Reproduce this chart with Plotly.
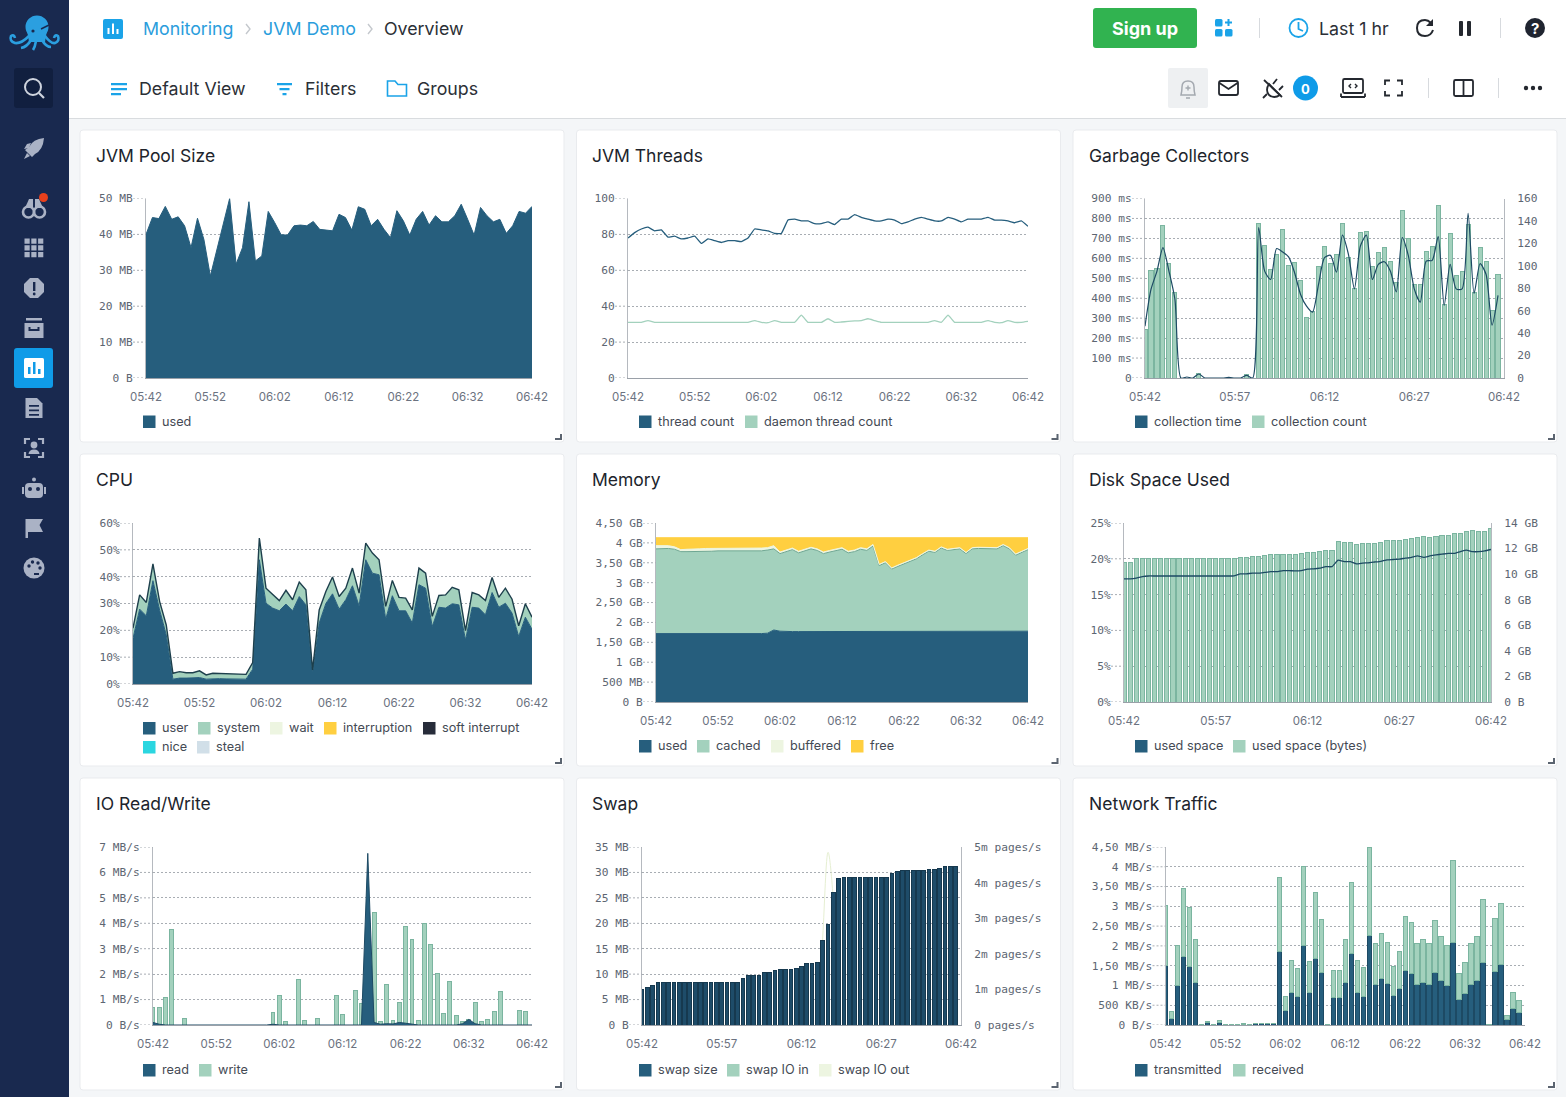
import plotly.graph_objects as go
import numpy as np

W, H = 1566, 1097

minutes = list(range(61))

# JVM Pool Size
pool_used = [40, 44.7, 44.4, 47.8, 44.2, 44.9, 42.4, 36.3, 44.5, 38.6,
             28.4, 35.8, 43.3, 50, 31.7, 36.3, 49.1, 32.6, 34, 46.4,
             43.3, 39.9, 39.8, 42.4, 42.6, 42.4, 43.6, 41.4, 41.2, 41,
             45.6, 44.7, 41.2, 47.7, 47, 42.4, 44.2, 41.4, 39.1, 46.6,
             43.8, 39.8, 44.2, 46.4, 42.6, 45.2, 43.5, 43.5, 45.2, 48.4,
             44.2, 39.8, 47.5, 45.2, 43.5, 44.2, 40.3, 42.4, 46.4, 45.9, 47.8]

# JVM Threads
thread_count = [78, 81, 83, 84, 82, 82.5, 78.5, 79, 77.5, 78,
                79, 75, 77.5, 76.5, 75.5, 76.5, 76.5, 76, 78, 83,
                82.5, 82, 80.5, 80.5, 88, 88.5, 87.5, 87.5, 86, 86,
                87, 85.5, 88.5, 88.5, 91, 89.5, 88.5, 87.5, 87.5, 88.5,
                88, 86, 87, 88.5, 89.5, 88.5, 87.5, 87.5, 89.5, 88.5,
                87, 88.5, 88.5, 88.5, 89.5, 88, 88, 87.5, 86.5, 87.5, 84.5]
daemon_count = [31, 31, 31, 32, 31, 31, 31, 31, 31, 31,
                31, 31, 31, 31, 31, 31, 31, 31, 31, 32,
                31, 30.8, 32, 31, 31, 31, 35, 31, 31, 31,
                33, 31, 31.2, 31.5, 31.8, 32, 33, 32, 31, 31,
                31, 31, 31, 31, 31, 31, 32, 31, 35, 31,
                31, 31, 31, 31, 32, 31, 30.8, 32, 31, 31, 31.5]

# Garbage Collectors
gc_time = [260, 444, 536, 654, 536, 394, 0, 5, 0, 20,
           0, 0, 0, 0, 3, 0, 0, 13, 0, 754,
           536, 494, 649, 632, 607, 528, 419, 360, 330, 469,
           603, 615, 531, 716, 620, 447, 662, 716, 494, 570,
           583, 536, 432, 704, 615, 447, 380, 586, 590, 709,
           364, 570, 447, 447, 826, 424, 573, 520, 265, 414]
gc_count = [43, 96, 98, 135.6, 102, 76, 0, 0, 0, 4,
            0, 0, 0, 0, 0, 0, 0, 3, 0, 137.7,
            118, 97, 110, 132, 100, 103, 87, 53.6, 59, 99,
            117, 102, 110, 137.7, 107, 80, 130, 130.5, 99, 112,
            116, 104, 85, 149, 124, 83, 83, 113, 117, 154,
            65.5, 129, 91, 95, 137, 76, 116, 104, 60, 92]

# CPU
cpu_user = [17, 27.9, 25.4, 38.5, 27.6, 18.3, 1.8, 2.2, 2.2, 2.2,
            2.4, 1.8, 2, 2, 1.9, 1.9, 1.9, 1.8, 5.5, 46.3,
            30.1, 28.3, 27.3, 29.8, 27.3, 32.6, 29.5, 4, 22.7, 30,
            33.6, 27.9, 31.4, 36.6, 29.1, 46.3, 41.3, 40.7, 24.2, 32.9,
            27.3, 27.3, 22.7, 37, 35.7, 21.4, 28.6, 28.3, 29.9, 29.5,
            16.4, 28.6, 28.3, 25.8, 34.1, 28.6, 30.1, 26.4, 17.7, 24.9, 20.4]
cpu_total = [20.8, 33.2, 30.4, 44.8, 30.8, 22, 4, 4.6, 4.2, 4.2,
             4.9, 3.4, 4, 3.9, 3.7, 3.7, 3.7, 3.6, 8, 54.4,
             35.7, 33.2, 31.1, 34.9, 31.4, 38, 35.1, 5.2, 27.6, 34.5,
             39.9, 32.6, 35.7, 43.2, 33.9, 52.5, 48.8, 46.3, 28.9, 38.6,
             32.3, 32, 27.6, 43.2, 41.3, 25.2, 33, 33.2, 36, 35.1,
             19.9, 34.1, 33.2, 31.1, 39.7, 32.3, 35.7, 31.6, 21.7, 29.9, 24.9]

# Memory, stacked tops in GB
mem_used = [1.72, 1.72, 1.72, 1.72, 1.71, 1.71, 1.71, 1.72, 1.72, 1.71,
            1.72, 1.72, 1.72, 1.72, 1.72, 1.72, 1.72, 1.72, 1.73, 1.81,
            1.78, 1.77, 1.77, 1.77, 1.77, 1.77, 1.77, 1.77, 1.77, 1.78,
            1.78, 1.78, 1.78, 1.78, 1.78, 1.77, 1.77, 1.77, 1.77, 1.77,
            1.77, 1.77, 1.77, 1.77, 1.77, 1.77, 1.77, 1.77, 1.77, 1.77,
            1.77, 1.77, 1.78, 1.78, 1.78, 1.78, 1.78, 1.78, 1.78, 1.78, 1.78]
mem_cached_top = [3.85, 3.86, 3.86, 3.84, 3.78, 3.78, 3.78, 3.78, 3.79, 3.79,
                  3.8, 3.8, 3.8, 3.8, 3.8, 3.8, 3.8, 3.8, 3.82, 3.85,
                  3.73, 3.79, 3.83, 3.75, 3.81, 3.85, 3.81, 3.73, 3.77, 3.8,
                  3.84, 3.75, 3.78, 3.84, 3.81, 3.92, 3.43, 3.5, 3.34, 3.41,
                  3.48, 3.54, 3.6, 3.7, 3.79, 3.76, 3.87, 3.81, 3.83, 3.85,
                  3.73, 3.85, 3.86, 3.86, 3.86, 3.85, 3.93, 3.85, 3.69, 3.75, 3.83]
mem_buffered_top = [3.93, 3.93, 3.93, 3.9, 3.83, 3.84, 3.84, 3.85, 3.86, 3.86,
                    3.87, 3.87, 3.87, 3.87, 3.87, 3.87, 3.87, 3.87, 3.88, 3.93,
                    3.77, 3.83, 3.87, 3.79, 3.85, 3.89, 3.85, 3.77, 3.81, 3.84,
                    3.88, 3.79, 3.82, 3.88, 3.85, 3.96, 3.46, 3.53, 3.37, 3.44,
                    3.51, 3.57, 3.63, 3.73, 3.82, 3.79, 3.9, 3.84, 3.86, 3.88,
                    3.76, 3.88, 3.89, 3.89, 3.89, 3.88, 3.96, 3.88, 3.72, 3.78, 3.86]
mem_free_top = [4.13, 4.13, 4.13, 4.13, 4.13, 4.13, 4.13, 4.13, 4.13, 4.13,
                4.13, 4.13, 4.13, 4.13, 4.13, 4.13, 4.13, 4.13, 4.13, 4.13,
                4.13, 4.13, 4.13, 4.13, 4.13, 4.13, 4.13, 4.13, 4.13, 4.13,
                4.13, 4.13, 4.13, 4.13, 4.13, 4.13, 4.13, 4.13, 4.13, 4.13,
                4.13, 4.13, 4.13, 4.13, 4.13, 4.13, 4.13, 4.13, 4.13, 4.13,
                4.13, 4.13, 4.13, 4.13, 4.13, 4.13, 4.13, 4.13, 4.13, 4.13, 4.13]

# Disk Space Used
disk_pct = [17.2, 17.2, 17.3, 17.5, 17.6, 17.6, 17.6, 17.6, 17.6, 17.6,
            17.6, 17.6, 17.6, 17.6, 17.6, 17.6, 17.6, 17.6, 17.6, 17.9,
            17.9, 18, 18, 18.1, 18.2, 18.2, 18.35, 18.35, 18.3, 18.35,
            18.55, 18.6, 18.7, 18.9, 18.9, 19.8, 19.6, 19.6, 19.3, 19.4,
            19.45, 19.55, 19.65, 19.85, 19.9, 19.95, 20.1, 20.2, 20.4, 20.2,
            20.4, 20.55, 20.65, 20.75, 20.75, 21, 21.2, 21, 21, 21.1, 21.3]
disk_bytes = [10.9, 10.95, 11.2, 11.2, 11.2, 11.2, 11.2, 11.2, 11.2, 11.2,
              11.2, 11.2, 11.2, 11.2, 11.2, 11.2, 11.2, 11.2, 11.2, 11.33,
              11.33, 11.36, 11.38, 11.45, 11.5, 11.53, 11.55, 11.5, 11.52, 11.6,
              11.7, 11.72, 11.75, 11.85, 11.85, 12.55, 12.45, 12.45, 12.35, 12.38,
              12.42, 12.42, 12.5, 12.6, 12.65, 12.62, 12.7, 12.8, 12.85, 12.95,
              12.85, 12.95, 13, 13.05, 13.15, 13.15, 13.3, 13.4, 13.3, 13.35, 13.55]

# IO Read/Write
io_read = [0.1, 0.03, 0, 0, 0, 0, 0, 0, 0, 0,
           0, 0, 0, 0, 0, 0, 0, 0, 0, 0.03,
           0, 0, 0, 0, 0, 0, 0, 0, 0, 0,
           0, 0, 0, 0, 6.75, 0.1, 0.03, 0.05, 0.04, 0.1,
           0.07, 0.02, 0, 0, 0, 0, 0, 0, 0, 0.05,
           0.22, 0.05, 0, 0, 0, 0, 0, 0, 0, 0, 0]
io_write = [0.67, 0.7, 1.08, 3.77, 0, 0.27, 0, 0, 0, 0,
            0, 0, 0, 0, 0, 0, 0, 0, 0, 0.51,
            1.16, 0.12, 0, 1.8, 0.18, 0, 0.25, 0, 0, 1.16,
            0.4, 0, 1.37, 0.85, 1, 4.43, 0.15, 1.6, 0.18, 0.9,
            3.87, 3.37, 0.16, 4, 3.18, 2.02, 0.45, 1.71, 0.37, 0.15,
            0.2, 0.9, 0.12, 0.2, 0.55, 1.33, 0, 0, 0.59, 0.53]

# Swap
swap_size = [7.05, 7.3, 7.8, 8.4, 8.4, 8.4, 8.4, 8.4, 8.4, 8.4,
             8.4, 8.4, 8.4, 8.4, 8.4, 8.4, 8.4, 8.4, 8.4, 9.2,
             9.65, 9.65, 9.65, 10.4, 10.4, 10.65, 11, 11, 11, 11.2,
             11.55, 12, 12, 12.3, 16.6, 19.85, 26, 28.9, 29, 29.05,
             29.05, 29.05, 29.05, 29.05, 29.05, 29.05, 29.05, 29.85, 30.1, 30.3,
             30.3, 30.3, 30.3, 30.3, 30.55, 30.55, 30.85, 31.1, 31.1, 31.1]
swap_io_out = [0, 0, 0, 0, 0, 0, 0, 0, 0, 0,
               0, 0, 0, 0, 0, 0, 0, 0, 0, 0,
               0, 0, 0, 0, 0, 0, 0, 0, 0, 0,
               0, 0, 0, 0, 2.5, 4.85, 3.5, 0, 0, 0,
               0, 0, 0, 0, 0, 0, 0, 0, 0, 0,
               0, 0, 0, 0, 0, 0, 0, 0, 0, 0]

# Network Traffic
net_transmitted = [1.51, 0.17, 1, 1.73, 1.48, 1.08, 0.01, 0.06, 0, 0.06,
                   0.01, 0, 0.01, 0.01, 0.005, 0.04, 0.04, 0.04, 0.04, 1.87,
                   0.36, 0.82, 0.71, 2, 0.81, 1.68, 1.34, 0.01, 0.69, 0.69,
                   1.08, 1.8, 0.81, 0.72, 2.26, 1.02, 1.17, 1.04, 0.74, 0.93,
                   1.37, 1.3, 1.02, 1.08, 1.02, 1.33, 1.13, 1.01, 2.08, 0.64,
                   0.79, 1.03, 1.12, 1.59, 0.01, 1.35, 1.54, 0.13, 0.41, 0.31]
net_total = [3.02, 0.33, 2, 3.45, 2.97, 2.15, 0.025, 0.09, 0.01, 0.12,
             0.02, 0.01, 0.02, 0.03, 0.01, 0.05, 0.05, 0.05, 0.05, 3.73,
             0.71, 1.63, 1.42, 4, 1.6, 3.36, 2.66, 0.02, 1.37, 1.39,
             2.15, 3.6, 1.62, 1.45, 4.5, 2.05, 2.32, 2.08, 1.47, 1.85,
             2.75, 2.59, 2.05, 2.15, 2.05, 2.65, 2.25, 2.01, 4.15, 1.3,
             1.57, 2.05, 2.24, 3.18, 0.02, 2.69, 3.07, 0.25, 0.83, 0.63]

labels_10 = ["05:42", "05:52", "06:02", "06:12", "06:22", "06:32", "06:42"]
labels_15 = ["05:42", "05:57", "06:12", "06:27", "06:42"]
ticks_10 = [0, 10, 20, 30, 40, 50, 60]
ticks_15 = [0, 15, 30, 45, 60]

DARK = "#265e7d"
DARK_LINE = "#1d4a64"
GREEN = "#a3d1bd"
GREEN_LINE = "#7bb5a0"
PALE = "#edf5e1"
YELLOW = "#ffcf40"
BLUE = "#1aa3e8"
SIDE = "#19294f"
SIDE_ICON = "#aab2c5"
INK = "#20242c"
AXIS = "#9aa0a8"

fig = go.Figure()
shapes = []
annotations = []


def px(x):
    return x / W


def py(y):
    return 1 - y / H


def svg(d):
    # absolute M/L/Q/C/Z path in pixels -> paper coordinates
    out, is_x = [], True
    for tok in d.split():
        if tok.isalpha():
            out.append(tok)
        else:
            out.append(str(px(float(tok)) if is_x else py(float(tok))))
            is_x = not is_x
    return " ".join(out)


def path(d, fill=None, color=None, lw=1.6):
    shapes.append(dict(type="path", path=svg(d), xref="paper", yref="paper", layer="below",
                       fillcolor=fill or "rgba(0,0,0,0)",
                       line=dict(color=color or "rgba(0,0,0,0)", width=lw if color else 0)))


def box(x0, y0, x1, y1, fill=None, color=None, lw=1.6, r=0):
    d = (f"M {x0+r} {y0} L {x1-r} {y0} Q {x1} {y0} {x1} {y0+r} L {x1} {y1-r} Q {x1} {y1} {x1-r} {y1} "
         f"L {x0+r} {y1} Q {x0} {y1} {x0} {y1-r} L {x0} {y0+r} Q {x0} {y0} {x0+r} {y0} Z")
    path(d, fill, color, lw)


def circ(cx, cy, r, fill=None, color=None, lw=1.6):
    shapes.append(dict(type="circle", xref="paper", yref="paper", layer="below",
                       x0=px(cx - r), x1=px(cx + r), y0=py(cy + r), y1=py(cy - r),
                       fillcolor=fill or "rgba(0,0,0,0)",
                       line=dict(color=color or "rgba(0,0,0,0)", width=lw if color else 0)))


def txt(x, y, s, size=12.7, color="#444a54", anchor="left", family="Inter"):
    # annotations carry about a pixel of padding on the left
    if anchor == "left":
        x -= 1
    annotations.append(dict(x=px(x), y=py(y), xref="paper", yref="paper", text=s, showarrow=False,
                            xanchor=anchor, yanchor="middle", borderpad=0,
                            font=dict(size=size, color=color, family=family)))


def legend(y, items):
    for x, name, col in items:
        box(x, y - 6, x + 12.5, y + 6.5, fill=col)
        txt(x + 19, y - 0.5, name)


def panel(n, title, card, left, right, top, bottom, xticks, xlabels, yvals, ytext, yrange, overlay=None):
    # axis ids start at 2; a panel with two y axes keeps the right one as base
    x0, y0 = card
    box(x0, y0, x0 + 484, y0 + 312, fill="white", color="#e9ebee", lw=1, r=3)
    txt(x0 + 15.5, y0 + 25.5, title, size=17.5, color=INK)
    path(f"M {x0+481} {y0+304} L {x0+481} {y0+309} L {x0+475} {y0+309}", color="#5b6470", lw=2)
    dom_x = [px(left), px(right)]
    dom_y = [py(bottom), py(top)]
    mono = dict(size=11.2, color="#5d6672", family="DejaVu Sans Mono")
    fig.update_layout(**{
        f"xaxis{n}": dict(domain=dom_x, range=[0, 60], anchor=f"y{n}", tickvals=xticks, ticktext=xlabels,
                          tickmode="array", showgrid=False, zeroline=False, showline=True, linecolor=AXIS,
                          linewidth=1, ticks="outside", ticklen=8, tickcolor="rgba(0,0,0,0)",
                          tickfont=dict(size=11.5, color="#6b7280", family="Inter")),
    })
    ax = dict(domain=dom_y, tickmode="array", zeroline=False, showline=True, linewidth=1, linecolor="#b5b9bf",
              ticks="outside", ticklen=10, tickcolor="rgba(0,0,0,0)", tickfont=mono, anchor=f"x{n}")
    grid = dict(showgrid=True, gridcolor="#a8adb3", gridwidth=1, griddash="2px,2px")
    if overlay is None:
        fig.update_layout(**{f"yaxis{n}": dict(ax, range=yrange, tickvals=yvals, ticktext=ytext, side="left", **grid)})
        left_ax = f"y{n}"
    else:
        rvals, rtext, rrange = overlay
        fig.update_layout(**{
            f"yaxis{n}": dict(ax, range=rrange, tickvals=rvals, ticktext=rtext, side="right", showgrid=False),
            f"yaxis{n + 10}": dict(ax, range=yrange, tickvals=yvals, ticktext=ytext, side="left",
                                   overlaying=f"y{n}", **grid),
        })
        left_ax = f"y{n + 10}"
    # dotted stubs between the tick labels and the axis
    for v in yvals:
        shapes.append(dict(type="line", xref=f"x{n} domain", yref=left_ax, x0=-13 / (right - left), x1=0, y0=v, y1=v,
                           line=dict(color="#a8adb3", width=1, dash="2px,2px")))
    return left_ax


def area(n, y, vals, fillcol, linecol, fill="tozeroy", lw=1):
    fig.add_trace(go.Scatter(x=minutes[:len(vals)], y=vals, mode="lines", fill=fill, fillcolor=fillcol,
                             line=dict(color=linecol, width=lw), xaxis=f"x{n}", yaxis=y,
                             hoverinfo="skip", showlegend=False))


def line(n, y, vals, col, lw=1.2, smoothing=0.6):
    fig.add_trace(go.Scatter(x=minutes[:len(vals)], y=vals, mode="lines", xaxis=f"x{n}", yaxis=y,
                             line=dict(color=col, width=lw, shape="spline", smoothing=smoothing),
                             hoverinfo="skip", showlegend=False))


def bars(n, y, vals, col=GREEN, linecol=GREEN_LINE, width=0.68):
    fig.add_trace(go.Bar(x=minutes[:len(vals)], y=vals, width=width, xaxis=f"x{n}", yaxis=y,
                         marker=dict(color=col, line=dict(color=linecol, width=1)),
                         hoverinfo="skip", showlegend=False))


# page background, header, sidebar
box(0, 0, W, H, fill="#f4f6f8")
box(69, 0, W, 118, fill="white")
path("M 69 118.5 L 1566 118.5", color="#d9dcdf", lw=1)
box(0, 0, 69, H, fill=SIDE)

# ---- panels
y_mb = ["0 B", "10 MB", "20 MB", "30 MB", "40 MB", "50 MB"]
a = panel(2, "JVM Pool Size", (80, 130), 146, 532, 198.5, 378, ticks_10, labels_10,
          [0, 10, 20, 30, 40, 50], y_mb, [0, 50])
area(2, a, pool_used, DARK, DARK)
legend(421.5, [(143, "used", DARK)])

a = panel(3, "JVM Threads", (576.5, 130), 628, 1028, 198.5, 378, ticks_10, labels_10,
          [0, 20, 40, 60, 80, 100], ["0", "20", "40", "60", "80", "100"], [0, 100])
line(3, a, daemon_count, GREEN, 1.3, 0.3)
line(3, a, thread_count, DARK, 1.3, 0.3)
legend(421.5, [(639, "thread count", DARK), (745, "daemon thread count", GREEN)])

a = panel(4, "Garbage Collectors", (1073, 130), 1145, 1504, 198.5, 378, ticks_15, labels_15,
          [0, 100, 200, 300, 400, 500, 600, 700, 800, 900],
          ["0", "100 ms", "200 ms", "300 ms", "400 ms", "500 ms", "600 ms", "700 ms", "800 ms", "900 ms"], [0, 900],
          overlay=([0, 20, 40, 60, 80, 100, 120, 140, 160],
                   ["0", "20", "40", "60", "80", "100", "120", "140", "160"], [0, 160]))
bars(4, "y4", gc_count)
line(4, a, gc_time, DARK_LINE, 1.2, 0.7)
legend(421.5, [(1135, "collection time", DARK), (1252, "collection count", GREEN)])

a = panel(5, "CPU", (80, 454), 133, 532, 523, 684, ticks_10, labels_10,
          [0, 10, 20, 30, 40, 50, 60], ["0%", "10%", "20%", "30%", "40%", "50%", "60%"], [0, 60])
area(5, a, cpu_user, DARK, DARK)
area(5, a, cpu_total, GREEN, "#1d3f4c", fill="tonexty", lw=1.4)
legend(728, [(143, "user", DARK), (198, "system", GREEN), (270, "wait", PALE),
             (324, "interruption", YELLOW), (423, "soft interrupt", "#272c3a")])
legend(747, [(143, "nice", "#2bd6e0"), (197, "steal", "#d1dfe8")])

a = panel(6, "Memory", (576.5, 454), 656, 1028, 523, 702, ticks_10, labels_10,
          [0, 0.5, 1, 1.5, 2, 2.5, 3, 3.5, 4, 4.5],
          ["0 B", "500 MB", "1 GB", "1,50 GB", "2 GB", "2,50 GB", "3 GB", "3,50 GB", "4 GB", "4,50 GB"], [0, 4.5])
area(6, a, mem_used, DARK, DARK)
area(6, a, mem_cached_top, GREEN, "#6ea793", fill="tonexty")
area(6, a, mem_buffered_top, PALE, PALE, fill="tonexty")
area(6, a, mem_free_top, YELLOW, YELLOW, fill="tonexty")
legend(746, [(639, "used", DARK), (697, "cached", GREEN), (771, "buffered", PALE), (851, "free", YELLOW)])

a = panel(7, "Disk Space Used", (1073, 454), 1124, 1491, 523, 702, ticks_15, labels_15,
          [0, 5, 10, 15, 20, 25], ["0%", "5%", "10%", "15%", "20%", "25%"], [0, 25],
          overlay=([0, 2, 4, 6, 8, 10, 12, 14],
                   ["0 B", "2 GB", "4 GB", "6 GB", "8 GB", "10 GB", "12 GB", "14 GB"], [0, 14]))
bars(7, "y7", disk_bytes)
line(7, a, disk_pct, DARK_LINE, 1.3, 0.3)
legend(746, [(1135, "used space", DARK), (1233, "used space (bytes)", GREEN)])

a = panel(8, "IO Read/Write", (80, 778), 153, 532, 847, 1025, ticks_10, labels_10,
          [0, 1, 2, 3, 4, 5, 6, 7], ["0 B/s", "1 MB/s", "2 MB/s", "3 MB/s", "4 MB/s", "5 MB/s", "6 MB/s", "7 MB/s"], [0, 7])
bars(8, a, io_write, width=0.62)
area(8, a, io_read, DARK, DARK_LINE)
legend(1070, [(143, "read", DARK), (199, "write", GREEN)])

a = panel(9, "Swap", (576.5, 778), 642, 961, 847, 1025, ticks_15, labels_15,
          [0, 5, 10, 15, 20, 25, 30, 35], ["0 B", "5 MB", "10 MB", "15 MB", "20 MB", "25 MB", "30 MB", "35 MB"], [0, 35],
          overlay=([0, 1, 2, 3, 4, 5],
                   ["0 pages/s", "1m pages/s", "2m pages/s", "3m pages/s", "4m pages/s", "5m pages/s"], [0, 5]))
line(9, "y9", swap_io_out, "#e6efd2", 1, 1)
bars(9, a, swap_size, col="#1e4c69", linecol="#16394f", width=0.7)
legend(1070, [(639, "swap size", DARK), (727, "swap IO in", GREEN), (819, "swap IO out", PALE)])

a = panel(10, "Network Traffic", (1073, 778), 1165.5, 1525, 847, 1025, ticks_10, labels_10,
          [0, 0.5, 1, 1.5, 2, 2.5, 3, 3.5, 4, 4.5],
          ["0 B/s", "500 KB/s", "1 MB/s", "1,50 MB/s", "2 MB/s", "2,50 MB/s", "3 MB/s", "3,50 MB/s", "4 MB/s", "4,50 MB/s"],
          [0, 4.5])
bars(10, a, net_transmitted, col=DARK, linecol=DARK_LINE, width=0.72)
bars(10, a, np.round(np.subtract(net_total, net_transmitted), 3).tolist(), width=0.72)
legend(1070, [(1135, "transmitted", DARK), (1233, "received", GREEN)])

# ---- sidebar icons
LOGO = "#2b9fe0"
circ(37, 27, 11.5, fill=LOGO)
path("M 27 30 L 47 30 L 45 42 L 29 42 Z", fill=LOGO)
path("M 29 36 Q 21 44 15 43 Q 9 41 11 36 Q 14 34 15 38", color=LOGO, lw=2.6)
path("M 31 40 Q 27 47 21 48", color=LOGO, lw=2.6)
path("M 36 41 Q 35 47 33 50", color=LOGO, lw=2.6)
path("M 42 40 Q 46 47 51 47", color=LOGO, lw=2.6)
path("M 45 36 Q 51 44 55 43 Q 60 41 58 36 Q 55 34 54 38", color=LOGO, lw=2.6)
circ(33, 31, 1.6, fill=SIDE)
path("M 41 29 L 49 25", color=SIDE, lw=1.4)

box(14, 68, 53, 108, fill="#111f3f", r=3)
circ(33, 87, 8, color="#cfd4de", lw=2)
path("M 39 93 L 44 98", color="#cfd4de", lw=2.2)

path("M 44 138 Q 33 139 29 147 L 25 150 L 32 157 L 35 154 Q 43 150 44 138 Z", fill=SIDE_ICON)
path("M 29 148 L 24 149 L 27 144 L 31 143 Z", fill=SIDE_ICON)
path("M 24 159 L 27 153 L 30 156 Z", fill=SIDE_ICON)

circ(28.5, 212, 5.5, color=SIDE_ICON, lw=2.6)
circ(39.5, 212, 5.5, color=SIDE_ICON, lw=2.6)
path("M 25 208 L 29 199 L 33 199 L 33 208 Z", fill=SIDE_ICON)
path("M 43 208 L 39 199 L 35 199 L 35 208 Z", fill=SIDE_ICON)
circ(43.5, 197.5, 4.5, fill="#e8401c")

for i in range(3):
    for j in range(3):
        box(24.5 + j * 6.8, 238.5 + i * 6.8, 29.7 + j * 6.8, 243.7 + i * 6.8, fill=SIDE_ICON)

path("M 30 278 L 38 278 L 44 284 L 44 292 L 38 298 L 30 298 L 24 292 L 24 284 Z", fill=SIDE_ICON)
box(33, 282, 35.4, 291, fill=SIDE)
circ(34.2, 294, 1.4, fill=SIDE)

box(26, 318, 42, 320.5, fill=SIDE_ICON)
box(24.5, 323, 43.5, 338, fill=SIDE_ICON)
path("M 29.5 327 L 29.5 330 L 38.5 330 L 38.5 327", color=SIDE, lw=2)

box(14, 348, 53, 388, fill="#0f9be8", r=3)
box(24, 358, 44, 378, fill="white", r=1.5)
box(28, 367, 30.5, 374, fill="#0f9be8")
box(33, 362, 35.5, 374, fill="#0f9be8")
box(38, 369, 40.5, 374, fill="#0f9be8")

path("M 25.5 398 L 37 398 L 42.5 403.5 L 42.5 418 L 25.5 418 Z", fill=SIDE_ICON)
for yy in (405, 409.5, 414):
    box(29, yy, 39, yy + 1.8, fill=SIDE)

for d in ("M 25 444 L 25 439 L 30 439", "M 38 439 L 43 439 L 43 444", "M 25 452 L 25 457 L 30 457", "M 38 457 L 43 457 L 43 452"):
    path(d, color=SIDE_ICON, lw=2.2)
circ(34, 445, 3.4, fill=SIDE_ICON)
path("M 28.5 454 Q 29 449.5 34 449.5 Q 39 449.5 39.5 454 Z", fill=SIDE_ICON)

box(25, 483, 43, 498, fill=SIDE_ICON, r=4)
circ(34, 479.5, 2, fill=SIDE_ICON)
box(22, 487, 24, 494, fill=SIDE_ICON)
box(44, 487, 46, 494, fill=SIDE_ICON)
circ(30, 489, 2, fill=SIDE)
circ(38, 489, 2, fill=SIDE)

path("M 25.5 519 L 43 519 L 39.5 525 L 43 532 L 28 532 L 28 538 L 25.5 538 Z", fill=SIDE_ICON)

circ(34, 568, 10.5, fill=SIDE_ICON)
for cx, cy in ((29, 566), (32.5, 562), (38, 563), (40, 568)):
    circ(cx, cy, 1.7, fill=SIDE)
path("M 34 574 L 39 574", color=SIDE, lw=2)

# ---- header row 1
box(103, 19, 123, 39, fill=BLUE, r=2)
box(107.5, 28, 109.5, 34, fill="white")
box(112, 23.5, 114, 34, fill="white")
box(116.5, 29, 118.5, 34, fill="white")
txt(143, 28.5, "Monitoring", size=17.8, color="#2a9ddc")
path("M 246 24 L 250 29 L 246 34", color="#c4c8cd", lw=1.4)
txt(263, 28.5, "JVM Demo", size=17.8, color="#2a9ddc")
path("M 368 24 L 372 29 L 368 34", color="#c4c8cd", lw=1.4)
txt(384, 28.5, "Overview", size=17.8, color="#2b2f36")

box(1093, 8, 1197, 48, fill="#31b350", r=3)
txt(1145, 28.5, "<b>Sign up</b>", size=18, color="white", anchor="center")
box(1215, 19, 1222.5, 26.5, fill=BLUE, r=1.5)
box(1215, 29, 1222.5, 36.5, fill=BLUE, r=1.5)
box(1225, 29, 1232.5, 36.5, fill=BLUE, r=1.5)
path("M 1228.5 19 L 1228.5 26 M 1225 22.5 L 1232 22.5", color=BLUE, lw=2)
path("M 1259.5 18 L 1259.5 38", color="#d7dade", lw=1)
circ(1298.5, 28, 9, color=BLUE, lw=1.8)
path("M 1298.5 22 L 1298.5 29 L 1303 31", color=BLUE, lw=1.8)
txt(1319, 28.5, "Last 1 hr", size=17.8, color="#2b2f36")
path("M 1431 23 Q 1428 20 1425 20 Q 1417 20 1417 28 Q 1417 36 1425 36 Q 1431 36 1433 30", color="#24282f", lw=2)
path("M 1433 19 L 1433 26 L 1426 26 Z", fill="#24282f")
box(1459, 21, 1463, 36, fill="#24282f", r=1)
box(1467, 21, 1471, 36, fill="#24282f", r=1)
path("M 1500.5 18 L 1500.5 38", color="#d7dade", lw=1)
circ(1535, 28, 10, fill="#1f2430")
txt(1535, 28.5, "<b>?</b>", size=15, color="white", anchor="center")

# ---- header row 2
for yy, x1 in ((83, 127), (88, 127), (93, 121)):
    box(111, yy, x1, yy + 2.2, fill=BLUE)
txt(139, 88.5, "Default View", size=17.8, color="#2b2f36")
box(277, 83, 292, 85.2, fill=BLUE)
box(279.5, 88, 289.5, 90.2, fill=BLUE)
box(282.5, 93, 286.5, 95.2, fill=BLUE)
txt(305, 88.5, "Filters", size=17.8, color="#2b2f36")
path("M 387.5 96 L 387.5 81 L 395 81 L 398 84.5 L 406.5 84.5 L 406.5 96 Z", color=BLUE, lw=1.6)
txt(417, 88.5, "Groups", size=17.8, color="#2b2f36")

box(1168, 68, 1208, 108, fill="#eef0f2", r=2)
path("M 1181 95 Q 1182 91 1182 87 Q 1182 81 1188 81 Q 1194 81 1194 87 Q 1194 91 1195 95 Z", color="#a4a9b0", lw=1.5)
path("M 1185.5 88 L 1190.5 88 M 1188 85.5 L 1188 90.5 M 1186 98 L 1190 98", color="#a4a9b0", lw=1.4)
box(1219, 81, 1238, 95, color="#24282f", lw=1.8, r=2)
path("M 1219.5 83 L 1228.5 89 L 1237.5 83", color="#24282f", lw=1.8)
path("M 1264 80 L 1282 97", color="#24282f", lw=1.8)
path("M 1269 84 L 1280 95 Q 1274 99 1269 95 Q 1265 90 1269 84 Z", color="#24282f", lw=1.8)
path("M 1277 79 L 1273 84 M 1283 86 L 1279 90 M 1267 94 L 1263 98", color="#24282f", lw=1.8)
circ(1305.5, 88, 12.5, fill="#0f9be8")
txt(1305.5, 88.5, "<b>0</b>", size=13, color="white", anchor="center")
box(1343, 79, 1363, 93, color="#24282f", lw=1.8, r=1.5)
path("M 1341 97 L 1365 97 M 1341 93.5 L 1341 97 M 1365 93.5 L 1365 97", color="#24282f", lw=1.8)
path("M 1351 84 L 1349 86 L 1351 88 M 1355 84 L 1357 86 L 1355 88", color="#24282f", lw=1.4)
for d in ("M 1385 85 L 1385 80.5 L 1390 80.5", "M 1397 80.5 L 1402 80.5 L 1402 85",
          "M 1385 91 L 1385 95.5 L 1390 95.5", "M 1397 95.5 L 1402 95.5 L 1402 91"):
    path(d, color="#24282f", lw=1.8)
path("M 1428.5 78 L 1428.5 98", color="#d7dade", lw=1)
box(1454, 80, 1473, 96, color="#24282f", lw=1.8, r=1.5)
path("M 1463.5 80 L 1463.5 96", color="#24282f", lw=1.8)
path("M 1498.5 78 L 1498.5 98", color="#d7dade", lw=1)
for cx in (1526, 1533, 1540):
    circ(cx, 88, 2.2, fill="#24282f")

fig.update_layout(width=W, height=H, margin=dict(l=0, r=0, t=0, b=0, autoexpand=False), autosize=False,
                  paper_bgcolor="#f4f6f8", plot_bgcolor="rgba(0,0,0,0)", barmode="stack", bargap=0.3,
                  showlegend=False, shapes=shapes, annotations=annotations,
                  font=dict(family="Inter"))

fig.write_html("out.html", config={"displayModeBar": False},
               post_script="document.body.style.margin='0';document.documentElement.style.overflow='hidden';")
